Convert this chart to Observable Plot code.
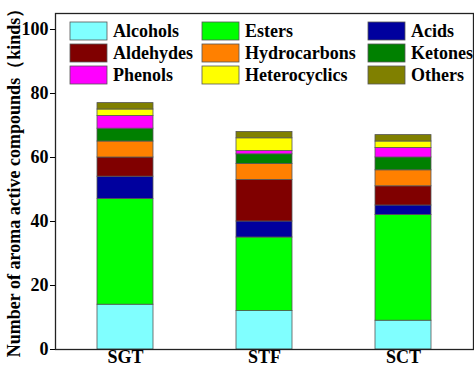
<!DOCTYPE html>
<html>
<head>
<meta charset="utf-8">
<script src="https://cdn.jsdelivr.net/npm/d3@7"></script>
<script src="https://cdn.jsdelivr.net/npm/@observablehq/plot@0.6"></script>
<style>
  html, body { margin: 0; padding: 0; background: #fff; }
  svg { display: block; }
</style>
</head>
<body>
<div id="chart"></div>
<script>
const samples = ["SGT", "STF", "SCT"];
const classes = ["Alcohols", "Esters", "Acids", "Aldehydes", "Hydrocarbons", "Ketones", "Phenols", "Heterocyclics", "Others"];
const colors = ["#80FFFF", "#00FF00", "#00009E", "#800000", "#FF8000", "#008000", "#FF00FF", "#FFFF00", "#808000"];
const SGT = [14, 33, 7, 6, 5, 4, 4, 2, 2];
const STF = [12, 23, 5, 13, 5, 3, 1, 4, 2];
const SCT = [9, 33, 3, 6, 5, 4, 3, 2, 2];
const yTicks = [0, 20, 40, 60, 80, 100];
const yTitle = "Number of aroma active compounds（kinds）";

const series = {SGT, STF, SCT};
const rows = [];
samples.forEach(s => classes.forEach((c, i) => rows.push({sample: s, cls: c, value: series[s][i]})));

const font = "'Liberation Serif', 'Times New Roman', serif";
const width = 474, height = 366;
const mL = 55, mR = 1, mT = 13, mB = 17;

const chart = Plot.plot({
  width, height,
  marginLeft: mL, marginRight: mR, marginTop: mT, marginBottom: mB,
  style: {fontFamily: font, fontWeight: "bold", fontSize: "18px", color: "#000", background: "#fff"},
  x: {domain: samples, paddingInner: 0.6, paddingOuter: 0.3, align: 0.5},
  y: {domain: [0, 105]},
  color: {domain: classes, range: colors},
  marks: [
    Plot.barY(rows, Plot.stackY({order: classes}, {x: "sample", y: "value", fill: "cls", stroke: "#555", strokeWidth: 0.8})),
    Plot.frame({stroke: "#222", strokeWidth: 1.3}),
    Plot.axisY({ticks: yTicks, tickSize: 5, tickPadding: 2, label: null, fontSize: 18}),
    Plot.axisX({tickSize: 0, tickPadding: 1, label: null, fontSize: 18}),
    Plot.text([yTitle], {frameAnchor: "left", textAnchor: "middle", rotate: -90, dx: -41, dy: -3, fontSize: 18, fontWeight: "bold", fill: "#000"})
  ]
});

document.getElementById("chart").appendChild(chart);

// Legend inside the frame
const svg = d3.select(chart);
const lg = svg.append("g").attr("font-family", font).attr("font-weight", "bold").attr("font-size", 18).attr("text-anchor", "start");
const colX = [70, 202, 368];
const rowY = [31, 53, 75];
classes.forEach((c, i) => {
  const col = i % 3, row = Math.floor(i / 3);
  const x = colX[col], yc = rowY[row];
  lg.append("rect").attr("x", x).attr("y", yc - 9).attr("width", 37).attr("height", 18)
    .attr("fill", colors[i]).attr("stroke", "#555").attr("stroke-width", 0.8);
  lg.append("text").attr("x", x + 43).attr("y", yc).attr("dy", "0.35em").attr("text-anchor", "start").attr("fill", "#000").text(c);
});
</script>
</body>
</html>
